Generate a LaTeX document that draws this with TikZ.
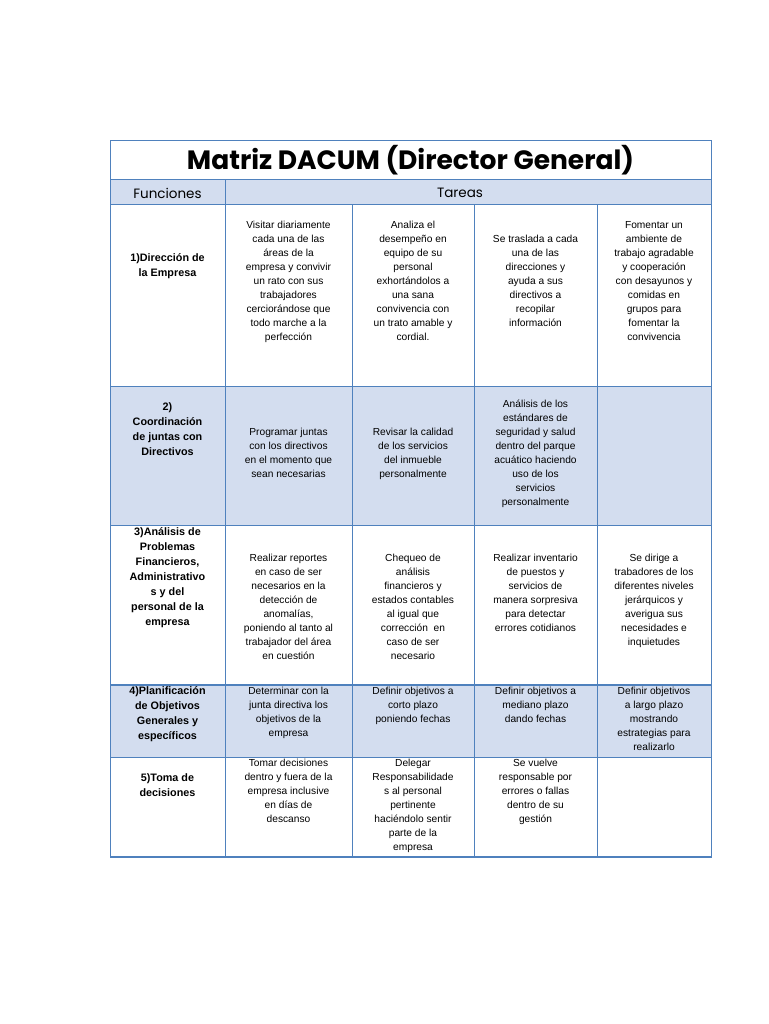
\documentclass[tikz,border=0pt]{standalone}
\usepackage{fontspec}
\setmainfont{Liberation Sans}
\newfontfamily\titlefont{Poppins}
\begin{document}
\begin{tikzpicture}[x=1pt,y=-1pt,
  cell/.style={anchor=north, inner sep=0pt, align=center, font=\fontsize{10.2}{14}\selectfont},
  fn/.style={anchor=north, inner sep=0pt, align=center, font=\bfseries\fontsize{10.8}{15}\selectfont}]
\definecolor{bord}{RGB}{79,129,189}
\definecolor{shadecol}{RGB}{211,221,239}
\useasboundingbox (0,0) rectangle (768,1024);
\fill[shadecol] (110,180) rectangle (711,205);
\fill[shadecol] (110,386) rectangle (711,525);
\fill[shadecol] (110,685) rectangle (711,757);
\draw[bord,line width=1pt] (110,141) rectangle (711,857);
\foreach \y in {180,205,386,525,757} \draw[bord,line width=1pt] (110,\y) -- (711,\y);
\draw[bord,line width=1.6pt] (110,685) -- (711,685);
\draw[bord,line width=2pt] (110,857) -- (711,857);
\draw[bord,line width=1pt] (225,180) -- (225,857);
\foreach \x in {352,474,597} \draw[bord,line width=1pt] (\x,205) -- (\x,857);
\node[inner sep=0] (title) at (410.5,160) {\titlefont\bfseries\fontsize{26.5}{28}\selectfont Matriz DACUM (Director General)};
\node[inner sep=0] (hf) at (167.5,193) {\titlefont\fontsize{13.5}{14}\selectfont Funciones};
\node[inner sep=0] (ht) at (460,193) {\titlefont\fontsize{13.5}{14}\selectfont Tareas};
% row 1
\node[fn] (f1) at (167.5,253) {1)Dirección de\\la Empresa};
\node[cell] (a1) at (288.5,221) {Visitar diariamente\\cada una de las\\áreas de la\\empresa y convivir\\un rato con sus\\trabajadores\\cerciorándose que\\todo marche a la\\perfección};
\node[cell] (b1) at (413,221) {Analiza el\\desempeño en\\equipo de su\\personal\\exhortándolos a\\una sana\\convivencia con\\un trato amable y\\cordial.};
\node[cell] (c1) at (535.5,235) {Se traslada a cada\\una de las\\direcciones y\\ayuda a sus\\directivos a\\recopilar\\información};
\node[cell] (d1) at (654,221) {Fomentar un\\ambiente de\\trabajo agradable\\y cooperación\\con desayunos y\\comidas en\\grupos para\\fomentar la\\convivencia};
% row 2
\node[fn] (f2) at (167.5,402) {2)\\Coordinación\\de juntas con\\Directivos};
\node[cell] (a2) at (288.5,428) {Programar juntas\\con los directivos\\en el momento que\\sean necesarias};
\node[cell] (b2) at (413,428) {Revisar la calidad\\de los servicios\\del inmueble\\personalmente};
\node[cell] (c2) at (535.5,400) {Análisis de los\\estándares de\\seguridad y salud\\dentro del parque\\acuático haciendo\\uso de los\\servicios\\personalmente};
% row 3
\node[fn] (f3) at (167.5,527) {3)Análisis de\\Problemas\\Financieros,\\Administrativo\\s y del\\personal de la\\empresa};
\node[cell] (a3) at (288.5,554) {Realizar reportes\\en caso de ser\\necesarios en la\\detección de\\anomalías,\\poniendo al tanto al\\trabajador del área\\en cuestión};
\node[cell] (b3) at (413,554) {Chequeo de\\análisis\\financieros y\\estados contables\\al igual que\\corrección~ en\\caso de ser\\necesario};
\node[cell] (c3) at (535.5,554) {Realizar inventario\\de puestos y\\servicios de\\manera sorpresiva\\para detectar\\errores cotidianos};
\node[cell] (d3) at (654,554) {Se dirige a\\trabadores de los\\diferentes niveles\\jerárquicos y\\averigua sus\\necesidades e\\inquietudes};
% row 4
\node[fn] (f4) at (167.5,686) {4)Planificación\\de Objetivos\\Generales y\\específicos};
\node[cell] (a4) at (288.5,687) {Determinar con la\\junta directiva los\\objetivos de la\\empresa};
\node[cell] (b4) at (413,687) {Definir objetivos a\\corto plazo\\poniendo fechas};
\node[cell] (c4) at (535.5,687) {Definir objetivos a\\mediano plazo\\dando fechas};
\node[cell] (d4) at (654,687) {Definir objetivos\\a largo plazo\\mostrando\\estrategias para\\realizarlo};
% row 5
\node[fn] (f5) at (167.5,773) {5)Toma de\\decisiones};
\node[cell] (a5) at (288.5,759) {Tomar decisiones\\dentro y fuera de la\\empresa inclusive\\en días de\\descanso};
\node[cell] (b5) at (413,759) {Delegar\\Responsabilidade\\s al personal\\pertinente\\haciéndolo sentir\\parte de la\\empresa};
\node[cell] (c5) at (535.5,759) {Se vuelve\\responsable por\\errores o fallas\\dentro de su\\gestión};
\end{tikzpicture}
\end{document}
